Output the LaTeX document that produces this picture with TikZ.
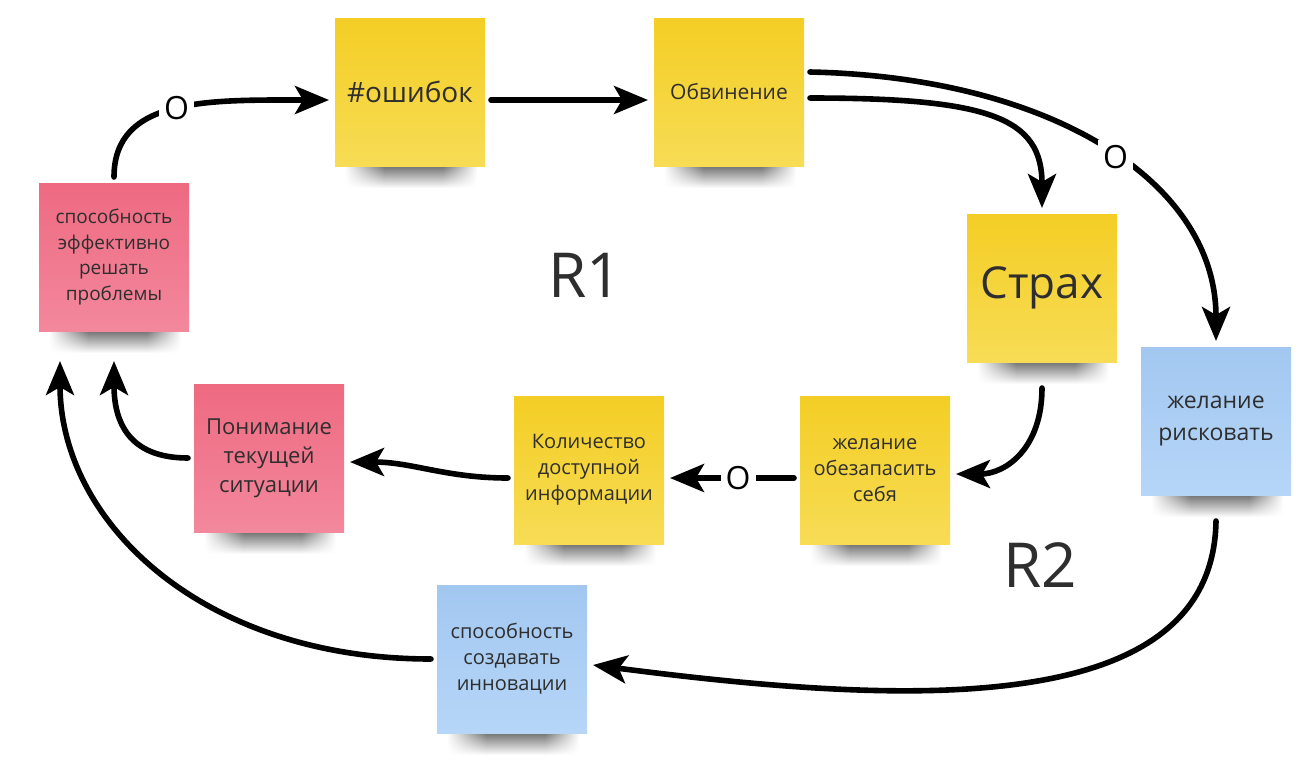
\documentclass[tikz,border=0pt]{standalone}
\usepackage{fontspec}
\setmainfont{Open Sans}
\usetikzlibrary{arrows.meta,calc,backgrounds,fadings}

\definecolor{ylwtop}{HTML}{F4CE25}
\definecolor{ylwbot}{HTML}{F7DC55}
\definecolor{pnktop}{HTML}{EE6A81}
\definecolor{pnkbot}{HTML}{F3889D}
\definecolor{blutop}{HTML}{A2C7F0}
\definecolor{blubot}{HTML}{B6D6F8}
\definecolor{ink}{HTML}{2E2E2E}

\pgfdeclarehorizontalshading{edgeshade}{100bp}{color(0bp)=(black); color(25bp)=(black);
  color(40bp)=(white); color(62bp)=(white); color(75bp)=(black); color(100bp)=(black)}
\pgfdeclarefading{edgefade}{\pgfuseshading{edgeshade}}

\begin{document}
\begin{tikzpicture}[x=0.5pt,y=-0.5pt,
  note/.style={rectangle, minimum width=75pt, minimum height=74pt,
    text width=70pt, align=center, inner sep=0pt, outer sep=3pt, text=ink},
  yellownote/.style={note, top color=ylwtop, bottom color=ylwbot},
  pinknote/.style={note, top color=pnktop, bottom color=pnkbot},
  bluenote/.style={note, top color=blutop, bottom color=blubot},
  link/.style={line width=2.8pt, line cap=round,
    -{Stealth[length=17pt,width=14pt,inset=4pt]}},
  polarity/.style={fill=white, inner sep=2.5pt, text=black,
    font=\fontsize{16}{16}\selectfont},
  loopname/.style={text=ink, font=\fontsize{31}{31}\selectfont}]
  \useasboundingbox (0,0) rectangle (1303,767);

  \node[pinknote, font=\fontsize{9.5}{12.8}\selectfont] (solve) at (114,257)
    {способность\\эффективно\\решать\\проблемы};
  \node[yellownote, font=\fontsize{14}{16}\selectfont] (errors) at (410,92) {\#ошибок};
  \node[yellownote, font=\fontsize{10.5}{13}\selectfont] (blame) at (729,92) {Обвинение};
  \node[yellownote, font=\fontsize{22}{24}\selectfont] (fear) at (1042,288) {Страх};
  \node[bluenote, font=\fontsize{11.5}{16}\selectfont] (risk) at (1216,421)
    {желание\\рисковать};
  \node[yellownote, font=\fontsize{10}{13}\selectfont] (safe) at (875,470)
    {желание\\обезапасить\\себя};
  \node[yellownote, font=\fontsize{10}{13}\selectfont] (info) at (589,470)
    {Количество\\доступной\\информации};
  \node[pinknote, font=\fontsize{11}{14.5}\selectfont] (grasp) at (269,458)
    {Понимание\\текущей\\ситуации};
  \node[bluenote, font=\fontsize{10}{13}\selectfont] (innov) at (512,659)
    {способность\\создавать\\инновации};

  \begin{scope}[on background layer]
    \foreach \n in {solve,errors,blame,fear,risk,safe,info,grasp,innov}
      \shade[top color=black!60, bottom color=white, path fading=edgefade]
        ($(\n.south west)+(16,-8)$) rectangle ($(\n.south east)+(-14,16)$);
  \end{scope}

  \draw[link] (solve.north) .. controls +(0,-80) and +(-120,0) ..
    node[polarity, pos=0.5] {O} ([yshift=-4pt]errors.west);
  \draw[link] ([yshift=-4pt]errors.east) -- ([yshift=-4pt]blame.west);
  \draw[link] ([yshift=-3pt]blame.east) .. controls +(180,0) and +(0,-90) .. (fear.north);
  \draw[link] ([yshift=10pt]blame.east) .. controls +(240,5) and +(0,-160) ..
    node[polarity, pos=0.53] {O} (risk.north);
  \draw[link] ([yshift=-10pt]fear.south) .. controls +(0,60) and +(50,0) ..
    ([yshift=-2pt]safe.east);
  \draw[link] ([yshift=-4pt]safe.west) -- node[polarity, pos=0.45] {O}
    ([yshift=-4pt]info.west -| info.east);
  \draw[link] ([yshift=-4pt]info.west) to[out=180, in=0] ([yshift=-2pt]grasp.east);
  \draw[link] (grasp.west) .. controls +(-60,0) and +(0,60) .. ([yshift=-12pt]solve.south);
  \draw[link] ([yshift=-10pt]risk.south) .. controls +(-3,200) and +(310,40) ..
    ([yshift=-3pt]innov.east);
  \draw[link] (innov.west) .. controls +(-230,0) and +(0,160) ..
    ([xshift=-27pt,yshift=-12pt]solve.south);

  \node[loopname] (r1) at (585,275) {R1};
  \node[loopname] (r2) at (1040,565) {R2};
\end{tikzpicture}
\end{document}
